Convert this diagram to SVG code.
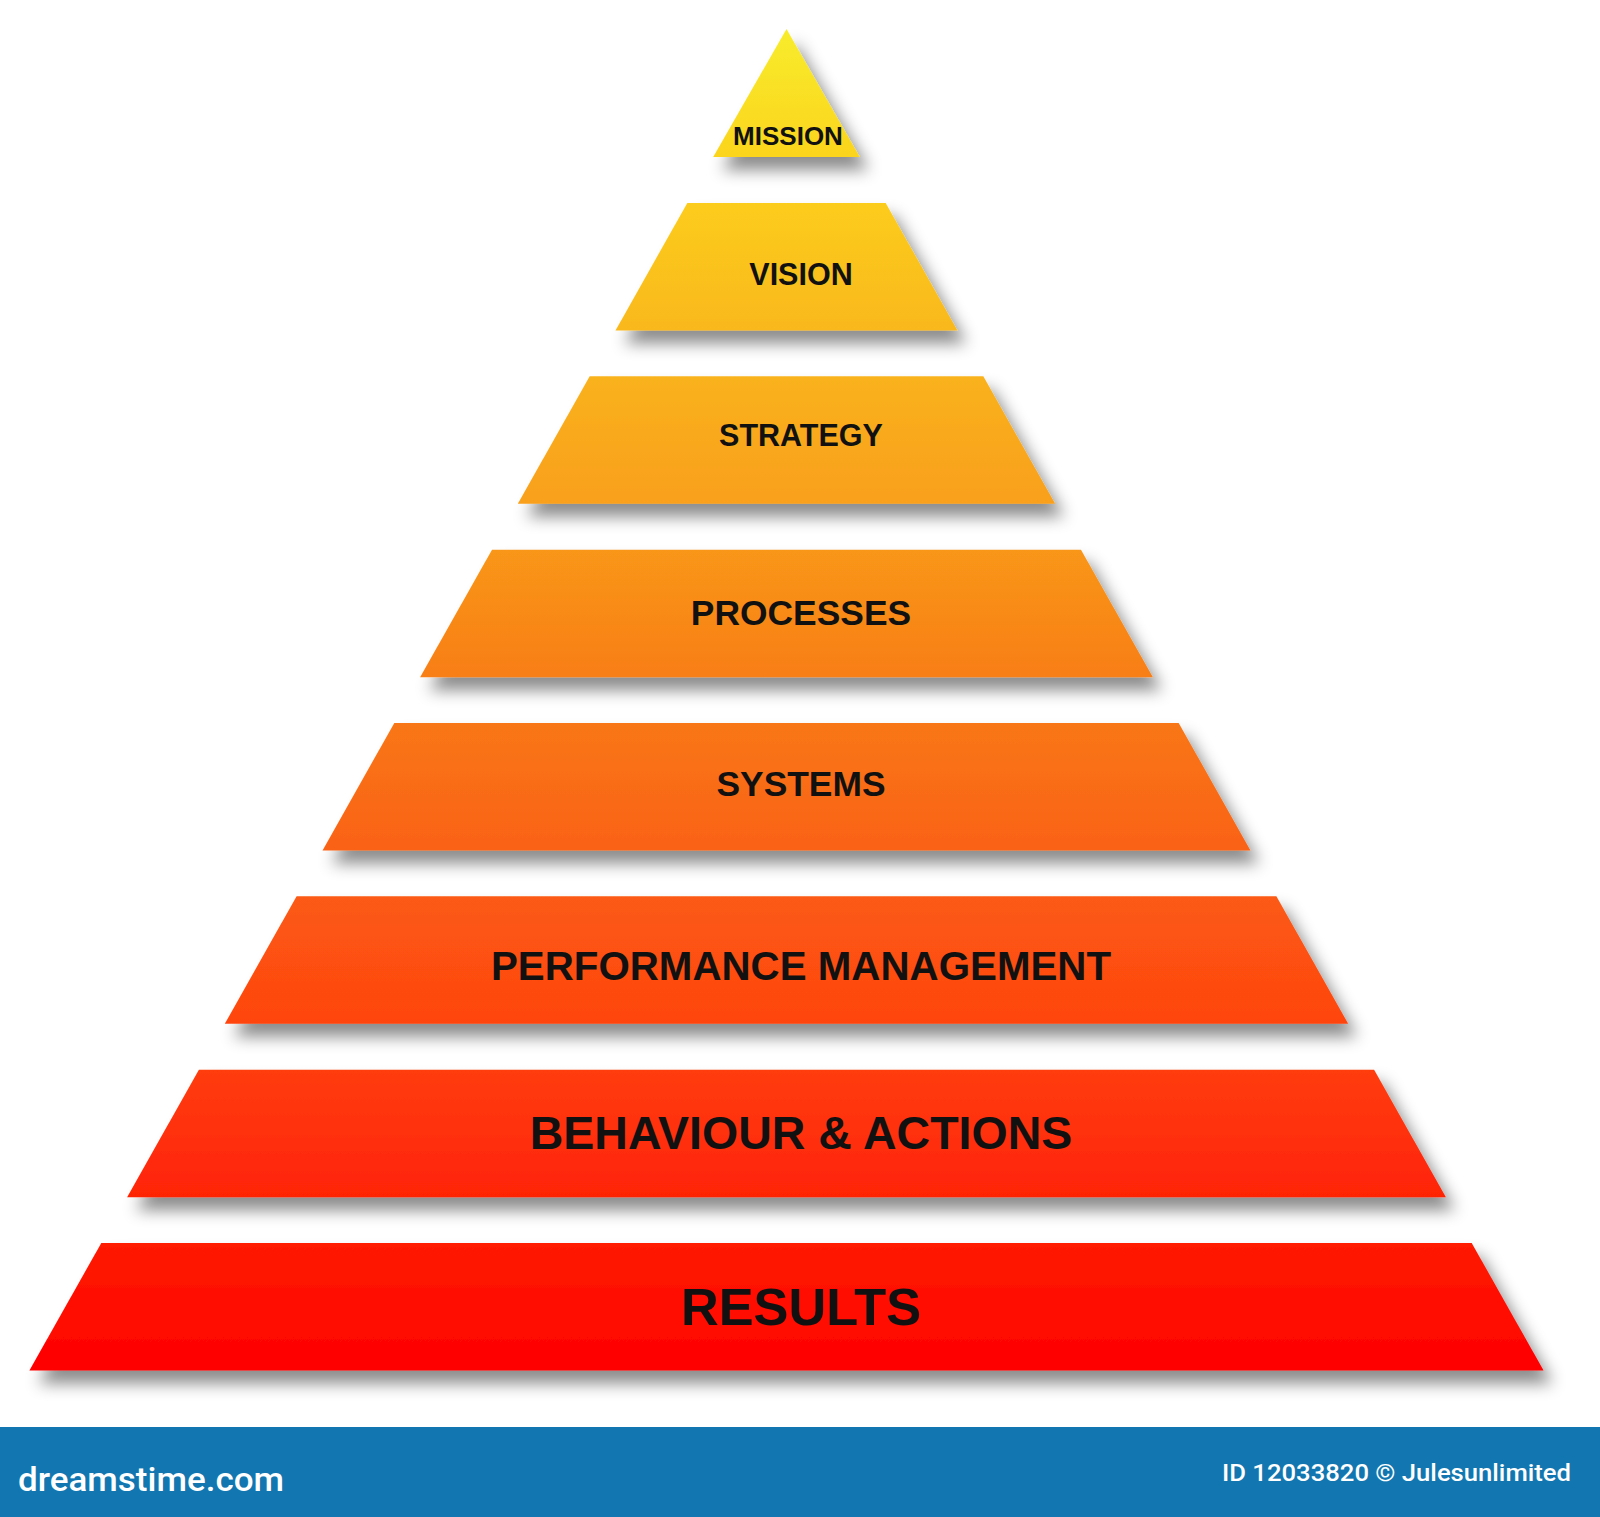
<svg xmlns="http://www.w3.org/2000/svg" width="1600" height="1517" viewBox="0 0 1600 1517">
  <defs>
    <linearGradient id="pyr" gradientUnits="userSpaceOnUse" x1="0" y1="30" x2="0" y2="1371">
      <stop offset="0" stop-color="#f8ec2c"/>
      <stop offset="0.095" stop-color="#fbd41d"/>
      <stop offset="0.13" stop-color="#fccc1e"/>
      <stop offset="0.224" stop-color="#f9b81f"/>
      <stop offset="0.35" stop-color="#f9a01a"/>
      <stop offset="0.482" stop-color="#f87e18"/>
      <stop offset="0.612" stop-color="#fa6214"/>
      <stop offset="0.741" stop-color="#ff4510"/>
      <stop offset="0.87" stop-color="#ff2406"/>
      <stop offset="1" stop-color="#ff0000"/>
    </linearGradient>
    <filter id="shadow" x="-10%" y="-20%" width="125%" height="160%">
      <feDropShadow dx="9" dy="13" stdDeviation="8" flood-color="#000" flood-opacity="0.45"/>
    </filter>
  </defs>
  <style>
    .band { fill: url(#pyr); filter: url(#shadow); }
    .lbl { font-family: "Liberation Sans", Arial, sans-serif; font-weight: bold; fill: #111; text-anchor: middle; }
    .foot { font-family: Roboto, "Liberation Sans", sans-serif; fill: #ffffff; }
  </style>
  <rect x="0" y="0" width="1600" height="1517" fill="#ffffff"/>

  <g id="mission">
    <polygon class="band" points="786.5,29 713.2,157 859.8,157"/>
    <text class="lbl" x="788" y="145" font-size="26">MISSION</text>
  </g>
  <g id="vision">
    <polygon class="band" points="687.3,203 885.7,203 957.5,330.5 615.5,330.5"/>
    <text class="lbl" x="801" y="285" font-size="30.5">VISION</text>
  </g>
  <g id="strategy">
    <polygon class="band" points="589.7,376.3 983.3,376.3 1055.2,503.8 517.8,503.8"/>
    <text class="lbl" x="801" y="446" font-size="30.5">STRATEGY</text>
  </g>
  <g id="processes">
    <polygon class="band" points="492,549.7 1081,549.7 1152.9,677.2 420.1,677.2"/>
    <text class="lbl" x="801" y="625" font-size="35.4">PROCESSES</text>
  </g>
  <g id="systems">
    <polygon class="band" points="394.3,723 1178.7,723 1250.5,850.5 322.5,850.5"/>
    <text class="lbl" x="801" y="796" font-size="35.4">SYSTEMS</text>
  </g>
  <g id="performance-management">
    <polygon class="band" points="296.6,896.3 1276.4,896.3 1348.2,1023.8 224.8,1023.8"/>
    <text class="lbl" x="801" y="980" font-size="40.3">PERFORMANCE MANAGEMENT</text>
  </g>
  <g id="behaviour-actions">
    <polygon class="band" points="198.9,1069.7 1374.1,1069.7 1445.9,1197.2 127.1,1197.2"/>
    <text class="lbl" x="801" y="1149" font-size="46.5">BEHAVIOUR &amp; ACTIONS</text>
  </g>
  <g id="results">
    <polygon class="band" points="101.3,1243 1471.7,1243 1543.6,1370.5 29.4,1370.5"/>
    <text class="lbl" x="801" y="1325" font-size="52.3">RESULTS</text>
  </g>

  <g id="connectors"/>

  <g id="footer">
    <rect x="0" y="1427" width="1600" height="90" fill="#1277b0"/>
    <text class="foot" x="18" y="1491" font-size="34" font-weight="500" textLength="266" lengthAdjust="spacingAndGlyphs">dreamstime.com</text>
    <text class="foot" x="1222" y="1481" font-size="24" font-weight="500" textLength="349" lengthAdjust="spacingAndGlyphs">ID 12033820 © Julesunlimited</text>
  </g>
</svg>
